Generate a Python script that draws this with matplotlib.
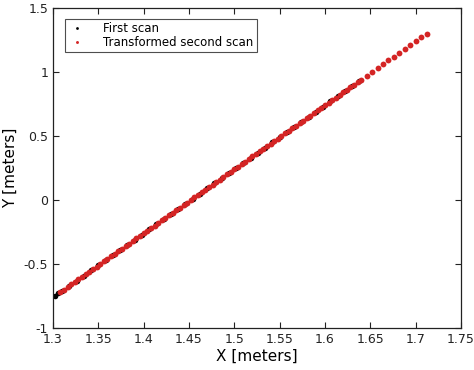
import matplotlib
matplotlib.use("Agg")
import matplotlib.pyplot as plt

# First scan (black points)
first_x = [1.302, 1.306, 1.310, 1.318, 1.326, 1.334, 1.342, 1.350, 1.358, 1.366, 1.374,
           1.382, 1.390, 1.398, 1.406, 1.414, 1.422, 1.430, 1.438, 1.446, 1.454,
           1.462, 1.470, 1.478, 1.486, 1.494, 1.502, 1.510, 1.518, 1.526, 1.534,
           1.542, 1.550, 1.558, 1.566, 1.574, 1.582, 1.590, 1.598, 1.606, 1.614,
           1.622, 1.630, 1.638]
first_y = [-0.75, -0.73, -0.71, -0.67, -0.63, -0.59, -0.55, -0.51, -0.47, -0.43, -0.39,
           -0.35, -0.31, -0.27, -0.23, -0.19, -0.15, -0.11, -0.07, -0.03, 0.01,
           0.05, 0.09, 0.13, 0.17, 0.21, 0.25, 0.29, 0.33, 0.37, 0.41,
           0.45, 0.49, 0.53, 0.57, 0.61, 0.65, 0.69, 0.73, 0.77, 0.81,
           0.85, 0.89, 0.93]

# Transformed second scan (red points)
second_x = [1.308, 1.312, 1.316, 1.320, 1.324, 1.328, 1.332, 1.336, 1.340, 1.344,
            1.348, 1.352, 1.356, 1.360, 1.364, 1.368, 1.372, 1.376, 1.380, 1.384,
            1.388, 1.392, 1.396, 1.400, 1.404, 1.408, 1.412, 1.416, 1.420, 1.424,
            1.428, 1.432, 1.436, 1.440, 1.444, 1.448, 1.452, 1.456, 1.460, 1.464,
            1.468, 1.472, 1.476, 1.480, 1.484, 1.488, 1.492, 1.496, 1.500, 1.504,
            1.508, 1.512, 1.516, 1.520, 1.524, 1.528, 1.532, 1.536, 1.540, 1.544,
            1.548, 1.552, 1.556, 1.560, 1.564, 1.568, 1.572, 1.576, 1.580, 1.584,
            1.588, 1.592, 1.596, 1.600, 1.604, 1.608, 1.612, 1.616, 1.620, 1.624,
            1.628, 1.632, 1.636, 1.640,
            1.646, 1.652, 1.658, 1.664, 1.670, 1.676, 1.682, 1.688, 1.694, 1.700,
            1.706, 1.712]
second_y = [-0.72, -0.70, -0.68, -0.66, -0.64, -0.62, -0.60, -0.58, -0.56, -0.54,
            -0.52, -0.50, -0.48, -0.46, -0.44, -0.42, -0.40, -0.38, -0.36, -0.34,
            -0.32, -0.30, -0.28, -0.26, -0.24, -0.22, -0.20, -0.18, -0.16, -0.14,
            -0.12, -0.10, -0.08, -0.06, -0.04, -0.02, 0.00, 0.02, 0.04, 0.06,
            0.08, 0.10, 0.12, 0.14, 0.16, 0.18, 0.20, 0.22, 0.24, 0.26,
            0.28, 0.30, 0.32, 0.34, 0.36, 0.38, 0.40, 0.42, 0.44, 0.46,
            0.48, 0.50, 0.52, 0.54, 0.56, 0.58, 0.60, 0.62, 0.64, 0.66,
            0.68, 0.70, 0.72, 0.74, 0.76, 0.78, 0.80, 0.82, 0.84, 0.86,
            0.88, 0.90, 0.92, 0.94,
            0.97, 1.00, 1.03, 1.06, 1.09, 1.12, 1.15, 1.18, 1.21, 1.24,
            1.27, 1.30]

x_ticks = [1.3, 1.35, 1.4, 1.45, 1.5, 1.55, 1.6, 1.65, 1.7, 1.75]
x_ticklabels = ["1.3", "1.35", "1.4", "1.45", "1.5", "1.55", "1.6", "1.65", "1.7", "1.75"]
y_ticks = [-1, -0.5, 0, 0.5, 1, 1.5]
y_ticklabels = ["-1", "-0.5", "0", "0.5", "1", "1.5"]

plt.rcParams['font.family'] = ['DejaVu Sans']
fig = plt.figure(figsize=(4.74, 3.70), dpi=100)
ax = fig.add_axes([53/474, 42/370, 408/474, 320/370])

ax.plot(first_x, first_y, linestyle='none', marker='o', markersize=4.0,
        markeredgewidth=0, color='black', label='First scan')
ax.plot(second_x, second_y, linestyle='none', marker='o', markersize=4.2,
        markeredgewidth=0, color='#d42424', label='Transformed second scan')

ax.set_xlim(1.3, 1.75)
ax.set_ylim(-1, 1.5)
ax.set_xticks(x_ticks)
ax.set_xticklabels(x_ticklabels)
ax.set_yticks(y_ticks)
ax.set_yticklabels(y_ticklabels)
ax.tick_params(direction='in', top=True, right=True, labelsize=9, length=4,
               width=0.8, colors='#222222')
for s in ax.spines.values():
    s.set_color('#222222')
    s.set_linewidth(0.9)

ax.set_xlabel('X [meters]', fontsize=11, labelpad=2)
ax.set_ylabel('Y [meters]', fontsize=11, labelpad=4)

leg = ax.legend(loc='upper left', fontsize=8.5, frameon=True, fancybox=False,
                edgecolor='#222222', markerscale=0.5, handlelength=1.6,
                borderpad=0.25, labelspacing=0.1, handletextpad=1.4,
                borderaxespad=0, bbox_to_anchor=(12/408, 1 - 11/320))
leg.get_frame().set_linewidth(0.8)

fig.savefig('out.png', dpi=100)
